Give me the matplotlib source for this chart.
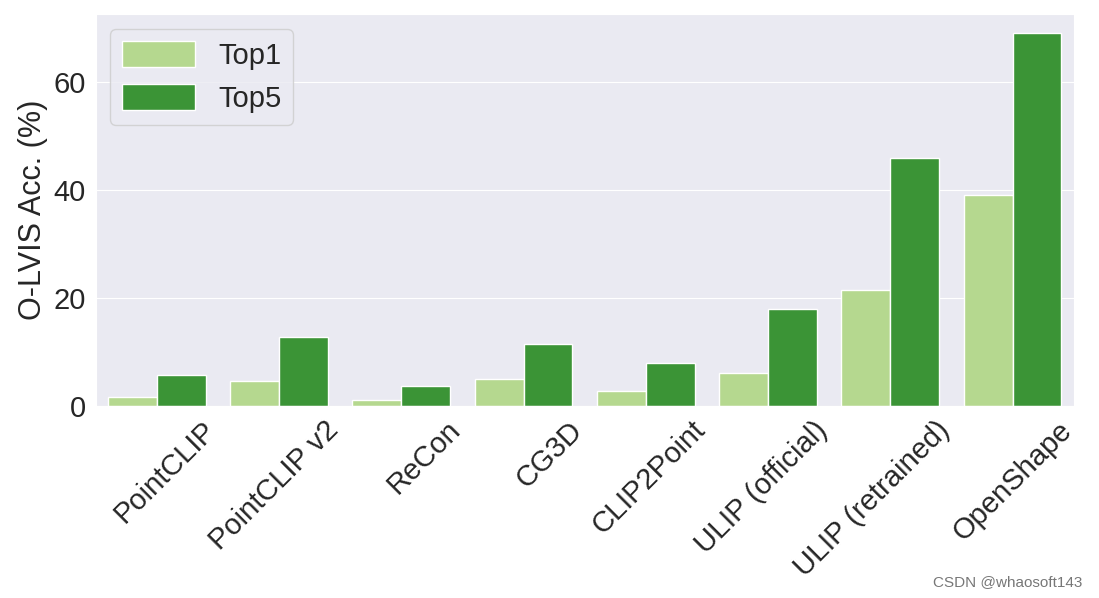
import matplotlib.pyplot as plt
import matplotlib.transforms as mtransforms
import seaborn as sns
import numpy as np

methods = ["PointCLIP", "PointCLIP v2", "ReCon", "CG3D", "CLIP2Point",
           "ULIP (official)", "ULIP (retrained)", "OpenShape"]
top1 = [1.7, 4.7, 1.1, 5.0, 2.7, 6.1, 21.4, 39.1]
top5 = [5.8, 12.8, 3.7, 11.5, 8.0, 17.9, 46.0, 69.1]

sns.set_style("darkgrid")
plt.rcParams['font.family'] = ['Liberation Sans', 'DejaVu Sans']

fig = plt.figure(figsize=(10.99, 5.98), dpi=100)
ax = fig.add_axes([0.087, 0.321, 0.89, 0.655])

x = np.arange(len(methods))
w = 0.4
ax.bar(x - w / 2, top1, w, color="#b5d88f", label="Top1")
ax.bar(x + w / 2, top5, w, color="#3b9436", label="Top5")

ax.set_xlim(-0.5, len(methods) - 0.5)
ax.set_ylim(0, 72.5)
ax.set_yticks([0, 20, 40, 60])
ax.tick_params(axis='y', labelsize=21)
ax.set_xticks(x)
ax.set_xticklabels(methods, rotation=45, ha='right', rotation_mode='anchor', fontsize=21)
offset = mtransforms.ScaledTranslation(0.45, 0, fig.dpi_scale_trans)
for lab in ax.get_xticklabels():
    lab.set_transform(lab.get_transform() + offset)
ax.xaxis.grid(False)
ax.set_ylabel("O-LVIS Acc. (%)", fontsize=22)
ax.legend(loc="upper left", fontsize=21, handlelength=2.5, handleheight=1.0)

fig.text(0.985, 0.015, "CSDN @whaosoft143", ha='right', va='bottom', fontsize=11, color='#777777')

fig.savefig("out.png", dpi=100)
